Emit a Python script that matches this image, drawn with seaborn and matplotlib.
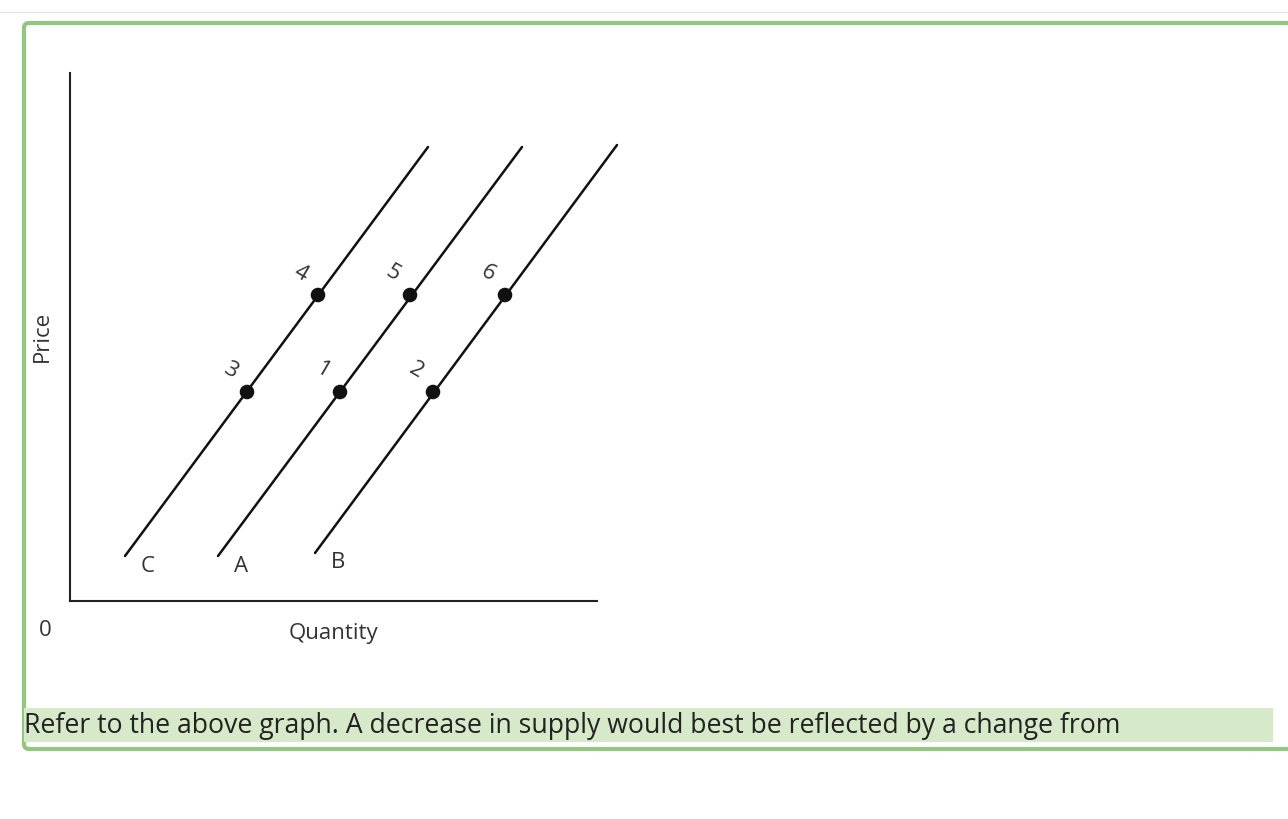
import matplotlib
matplotlib.use("Agg")
import matplotlib.pyplot as plt
import seaborn as sns
import pandas as pd
from matplotlib.patches import FancyBboxPatch, Rectangle

sns.set_style("white")
plt.rcParams['font.family'] = ['Open Sans', 'DejaVu Sans']

curve_names = ["C", "A", "B"]
curve_x0 = [55, 148, 245]
curve_y0 = [45, 45, 48]
curve_x1 = [358, 452, 547]
curve_y1 = [454, 454, 456]
point_labels = ["3", "4", "1", "5", "2", "6"]
point_x = [177, 248, 270, 340, 363, 435]
point_y = [209, 306, 209, 306, 209, 306]

W, H = 1288, 819
fig = plt.figure(figsize=(W/100, H/100), dpi=100)
bg = fig.add_axes([0, 0, 1, 1]); bg.set_xlim(0, W); bg.set_ylim(H, 0); bg.axis("off")
bg.plot([0, W], [12, 12], color="#e6e6e6", lw=1)
bg.add_patch(FancyBboxPatch((24, 23), 1300, 726, boxstyle="round,pad=0,rounding_size=5",
                            fill=False, ec="#94c67f", lw=3))
bg.add_patch(Rectangle((24, 708), 1249, 34, color="#d6e9c9", lw=0))
bg.text(24, 726, "Refer to the above graph. A decrease in supply would best be reflected by a change from",
        fontsize=19.2, va="center", ha="left", color="#222222")

ax = fig.add_axes([70/W, (H-601)/H, 527/W, 528/H])
ax.set_xlim(0, 527); ax.set_ylim(0, 528)
sns.despine(ax=ax)
for s in ["left", "bottom"]:
    ax.spines[s].set_color("#222222"); ax.spines[s].set_linewidth(1.5)
ax.set_xticks([]); ax.set_yticks([])
ax.patch.set_alpha(0)

lines = pd.DataFrame({"x": curve_x0 + curve_x1, "y": curve_y0 + curve_y1, "c": curve_names * 2})
sns.lineplot(data=lines, x="x", y="y", units="c", estimator=None, color="#111111", lw=1.8,
             ax=ax, sort=False, legend=False)
for ln in ax.lines:
    ln.set_clip_on(False)
for n, x0, y0 in zip(curve_names, curve_x0, curve_y0):
    ax.text(x0 + 23, y0 - 10, n, fontsize=16, color="#333333", ha="center", va="center")
pts = pd.DataFrame({"x": point_x, "y": point_y})
sns.scatterplot(data=pts, x="x", y="y", color="#111111", s=110, ax=ax, zorder=5, edgecolor="none",
                clip_on=False)
for l, x, y in zip(point_labels, point_x, point_y):
    ax.text(x - 17, y + 22, l, fontsize=16, color="#333333", ha="center", va="center", rotation=-30)
ax.set_xlabel(""); ax.set_ylabel("")

bg.text(42, 336, "Price", rotation=90, fontsize=16, color="#333333", ha="center", va="center")
bg.text(45, 630, "0", fontsize=16, color="#333333", ha="center", va="center")
bg.text(333, 633, "Quantity", fontsize=16, color="#333333", ha="center", va="center")

fig.savefig("out.png", dpi=100)
